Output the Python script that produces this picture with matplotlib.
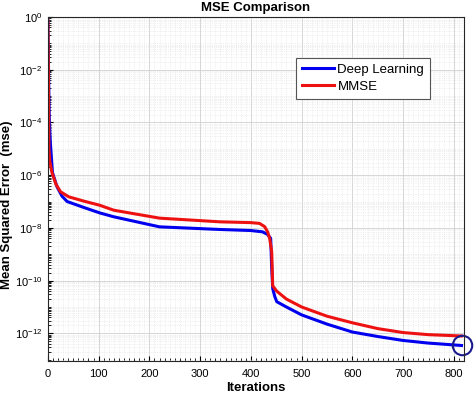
import numpy as np
import matplotlib.pyplot as plt
from matplotlib.ticker import LogLocator, MultipleLocator, NullFormatter

plt.rcParams['font.family'] = ['Liberation Sans', 'DejaVu Sans']

# values (y given as exponent, i.e. mse = 10**-e)
dl_iter = [0, 1, 2, 3, 5, 9, 18, 28, 38, 70, 102, 130, 220, 339, 400, 423, 433, 439, 441, 443, 447, 451,
           470, 500, 550, 600, 650, 700, 750, 815]
dl_exp = [0.15, 1.5, 3.0, 4.0, 4.8, 5.9, 6.44, 6.8, 7.0, 7.22, 7.43, 7.58, 7.96, 8.06, 8.1, 8.15, 8.25, 8.4,
          9.5, 10.3, 10.6, 10.8, 11.0, 11.3, 11.65, 11.95, 12.12, 12.27, 12.37, 12.46]

mmse_iter = [0, 1, 2, 4, 8, 16, 25, 41, 70, 102, 130, 220, 339, 400, 417, 427, 433, 437, 441, 443, 447, 451,
             470, 500, 550, 600, 650, 700, 750, 815]
mmse_exp = [0.15, 2.0, 5.0, 5.5, 5.9, 6.35, 6.63, 6.82, 6.98, 7.14, 7.33, 7.63, 7.77, 7.8, 7.83, 7.95, 8.15, 8.4,
            8.9, 10.2, 10.3, 10.4, 10.7, 11.0, 11.35, 11.6, 11.82, 11.97, 12.05, 12.1]

dl_mse = [10.0 ** -e for e in dl_exp]
mmse_mse = [10.0 ** -e for e in mmse_exp]

fig = plt.figure(figsize=(4.74, 3.95), dpi=100)
ax = fig.add_axes([0.101, 0.086, 0.878, 0.871])

ax.semilogy(dl_iter, dl_mse, color='#0000ee', lw=2.2, label='Deep Learning')
ax.semilogy(mmse_iter, mmse_mse, color='#ee1111', lw=2.2, label='MMSE')
# end point marker
ax.plot(dl_iter[-1], dl_mse[-1], 'o', mfc='none', mec='#1a1a8c', ms=14, mew=1.5, clip_on=False)

ax.set_xlim(0, 820)
ax.set_ylim(10 ** -13.05, 1)
ax.xaxis.set_major_locator(MultipleLocator(100))
ax.xaxis.set_minor_locator(MultipleLocator(10))
ax.yaxis.set_major_locator(LogLocator(base=100, numticks=20))
ax.yaxis.set_minor_locator(LogLocator(base=10, subs=np.arange(1, 10), numticks=100))
ax.yaxis.set_minor_formatter(NullFormatter())

ax.grid(which='major', color='#d0d0d0', lw=0.6, ls='-')
ax.grid(which='minor', color='#e2e2e2', lw=0.5, ls=':')
ax.tick_params(which='both', direction='in', labelsize=8)
ax.tick_params(axis='x', pad=6)
ax.tick_params(axis='y', pad=4)
ax.tick_params(which='minor', length=2)
for s in ax.spines.values():
    s.set_color('#262626')
    s.set_linewidth(0.8)

ax.set_title('MSE Comparison', fontsize=9.5, fontweight='bold', pad=4)
ax.set_xlabel('Iterations', fontsize=9.5, fontweight='bold')
ax.set_ylabel('Mean Squared Error  (mse)', fontsize=9.5, fontweight='bold')
ax.xaxis.set_label_coords(0.5, -0.062)
ax.yaxis.set_label_coords(-0.083, 0.455)

leg = ax.legend(loc='upper left', bbox_to_anchor=(0.596, 0.881), borderaxespad=0, fontsize=9.5,
                fancybox=False, framealpha=1, edgecolor='#555555',
                handlelength=2.4, borderpad=0.45, labelspacing=0.35, handletextpad=0.3)
leg.get_frame().set_linewidth(0.8)

fig.savefig('out.png', dpi=100)
